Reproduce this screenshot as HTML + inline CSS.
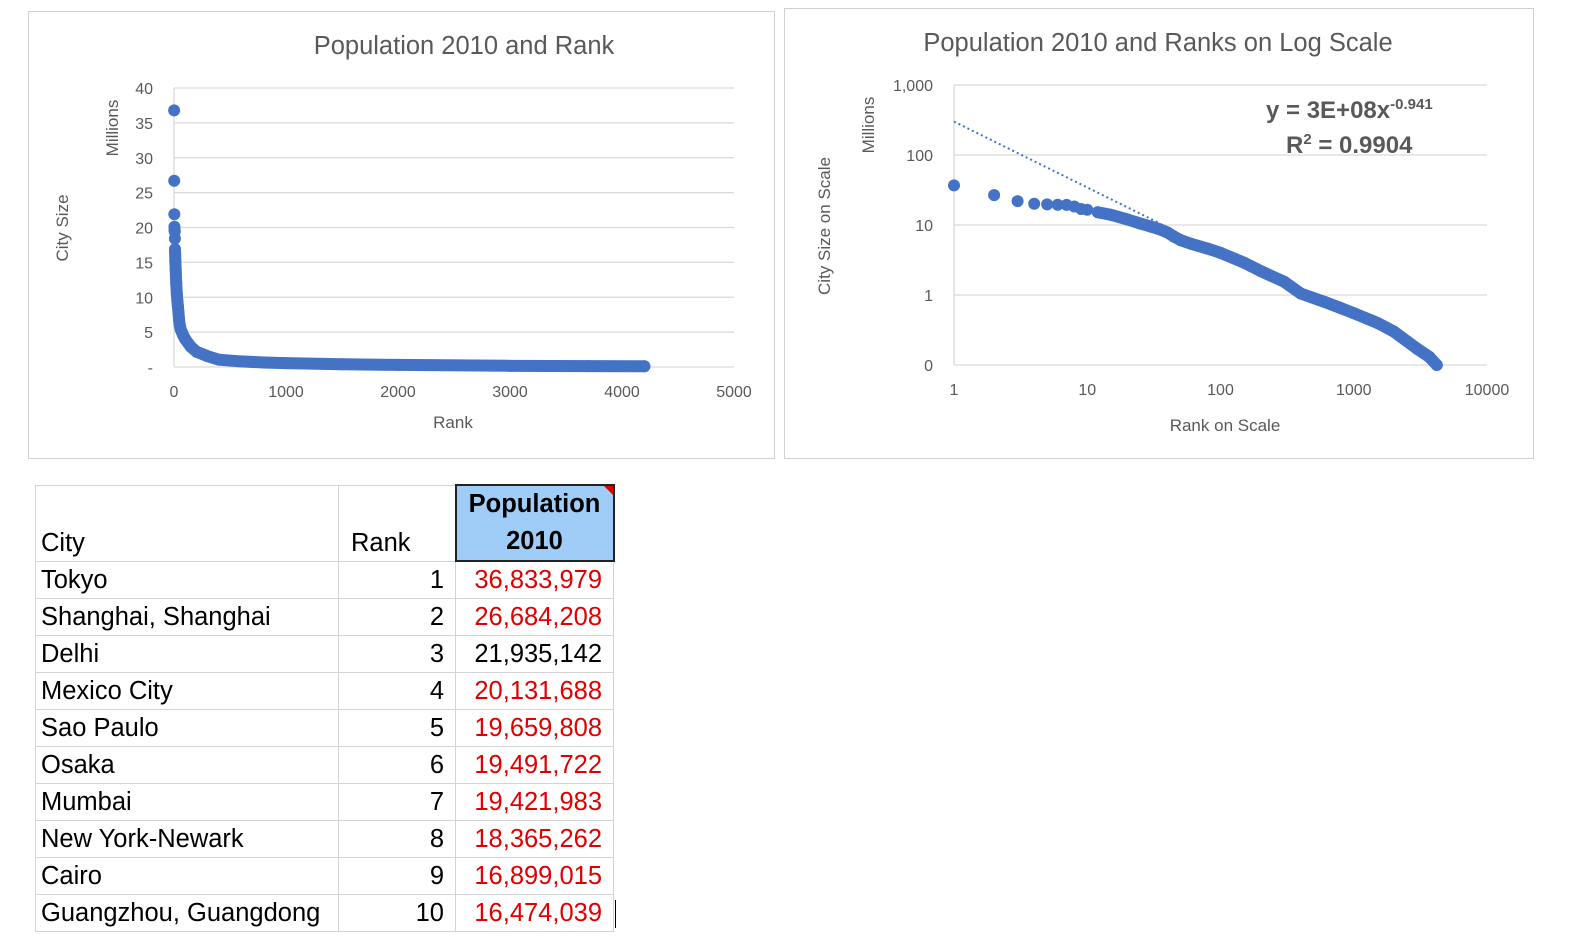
<!DOCTYPE html>
<html><head><meta charset="utf-8">
<style>
body{margin:0;background:#fff;width:1570px;height:944px;overflow:hidden;font-family:"Liberation Sans",sans-serif;position:relative}
svg text{font-family:"Liberation Sans",sans-serif}
table{position:absolute;left:35px;top:484px;border-collapse:collapse;font-size:25.5px;font-family:"Liberation Sans",sans-serif;table-layout:fixed;width:578px}
td{border:1.5px solid #d4d4d4;height:37px;padding:0 5px;line-height:36px;white-space:nowrap;box-sizing:border-box;overflow:visible}
.r{text-align:right;padding-right:11px}
.red{color:#e00000}
</style></head><body>
<svg width="1570" height="470" style="position:absolute;left:0;top:0">
<rect x="28.5" y="11.5" width="746" height="447" fill="#fff" stroke="#d0d0d0"/>
<rect x="784.5" y="8.5" width="749" height="450" fill="#fff" stroke="#d0d0d0"/>
<g id="left"></g>
<g id="right"></g>
</svg>
<table>
<colgroup><col style="width:303px"><col style="width:117px"><col style="width:158px"></colgroup>
<tr style="height:74px"><td style="height:74px;vertical-align:bottom">City</td><td style="vertical-align:bottom;padding-left:12px">Rank</td><td style="background:#9fcdf7;border:2px solid #222;text-align:center;font-weight:bold;line-height:37px;position:relative">Population<br>2010<span style="position:absolute;right:0;top:0;width:0;height:0;border-left:9px solid transparent;border-top:9px solid #e00000"></span></td></tr>
<tr><td>Tokyo</td><td class="r">1</td><td class="r red">36,833,979</td></tr>
<tr><td>Shanghai, Shanghai</td><td class="r">2</td><td class="r red">26,684,208</td></tr>
<tr><td>Delhi</td><td class="r">3</td><td class="r">21,935,142</td></tr>
<tr><td>Mexico City</td><td class="r">4</td><td class="r red">20,131,688</td></tr>
<tr><td>Sao Paulo</td><td class="r">5</td><td class="r red">19,659,808</td></tr>
<tr><td>Osaka</td><td class="r">6</td><td class="r red">19,491,722</td></tr>
<tr><td>Mumbai</td><td class="r">7</td><td class="r red">19,421,983</td></tr>
<tr><td>New York-Newark</td><td class="r">8</td><td class="r red">18,365,262</td></tr>
<tr><td>Cairo</td><td class="r">9</td><td class="r red">16,899,015</td></tr>
<tr><td>Guangzhou, Guangdong</td><td class="r">10</td><td class="r red">16,474,039</td></tr>
</table>
<div style="position:absolute;left:615px;top:900px;width:1px;height:28px;background:#000"></div>
<script>
const ranks = [1,2,3,4,5,6,7,8,9,10,12,15,20,25,30,35,40,45,50,60,80,100,150,200,300,400,600,800,1000,1500,2000,3000,3700,4200];
const popMillions = [36.8,26.7,21.9,20.1,19.7,19.5,19.4,18.4,16.9,16.5,15.2,14.0,12.0,10.5,9.5,8.7,7.8,6.8,6.1,5.4,4.6,4.0,2.9,2.2,1.55,1.05,0.8,0.65,0.55,0.4,0.3,0.17,0.13,0.1];
const leftYTicks = ["-","5","10","15","20","25","30","35","40"];
const leftXTicks = ["0","1000","2000","3000","4000","5000"];
const rightYTicks = ["0","1","10","100","1,000"];
const rightXTicks = ["1","10","100","1000","10000"];
const trendA = 300, trendB = -0.941, trendEnd = 35;
const NS="http://www.w3.org/2000/svg";
function mk(p,tag,attrs){const e=document.createElementNS(NS,tag);for(const k in attrs)e.setAttribute(k,attrs[k]);p.appendChild(e);return e;}
function txt(p,x,y,s,size,fill,anchor,rot){const t=mk(p,'text',{x:x,y:y,'font-size':size,fill:fill,'text-anchor':anchor||'middle'});if(rot)t.setAttribute('transform','rotate(-90 '+x+' '+y+')');t.textContent=s;return t;}
const blue="#4472c4", grey="#595959";
// LEFT
const L=document.getElementById('left');
const lx=v=>174+v*(560/5000), ly=v=>367-v*(279/40);
leftYTicks.forEach((s,i)=>{const y=ly(i*5);
 const g=mk(L,'line',{x1:174,x2:734,y1:y,y2:y,stroke:'#d9d9d9','stroke-width':1.3});
 
 const t=txt(L,153,y+6,s,16,grey,'end');});
leftXTicks.forEach((s,i)=>{const t=txt(L,lx(+s),397,s,16,grey);});
mk(L,'line',{x1:174,x2:174,y1:88,y2:367,stroke:'#d9d9d9','stroke-width':1.3});
let t=txt(L,464,54,'Population 2010 and Rank',25.5,grey);
t=txt(L,453,428,'Rank',17,grey);
t=txt(L,68,228,'City Size',17,grey,'middle',true);
t=txt(L,118,128,'Millions',17,grey,'middle',true);
let pts=ranks.map((r,i)=>lx(r)+','+ly(popMillions[i])).slice(9).join(' ');
let pl=mk(L,'polyline',{points:pts,fill:'none',stroke:blue,'stroke-width':12,'stroke-linecap':'round','stroke-linejoin':'round'});

ranks.forEach((r,i)=>{const c=mk(L,'circle',{cx:lx(r),cy:ly(popMillions[i]),r:6,fill:blue});
 });
// RIGHT
const R=document.getElementById('right');
const rx=v=>954+Math.log10(v)*133.25, ry=v=>365-(Math.log10(v)+1)*70;
rightYTicks.forEach((s,i)=>{const y=365-i*70;
 const g=mk(R,'line',{x1:954,x2:1487,y1:y,y2:y,stroke:'#d9d9d9','stroke-width':1.3});
 
 const tt=txt(R,933,y+6,s,16,grey,'end');});
rightXTicks.forEach((s,i)=>{const tt=txt(R,rx(+s),395,s,16,grey);});
mk(R,'line',{x1:954,x2:954,y1:85,y2:365,stroke:'#d9d9d9','stroke-width':1.3});
t=txt(R,1158,51,'Population 2010 and Ranks on Log Scale',25.5,grey);
t=txt(R,1225,431,'Rank on Scale',17,grey);
t=txt(R,830,226,'City Size on Scale',17,grey,'middle',true);
t=txt(R,874,125,'Millions',17,grey,'middle',true);
const tl=mk(R,'line',{x1:rx(1),y1:ry(trendA),x2:rx(trendEnd),y2:ry(trendA*Math.pow(trendEnd,trendB)),stroke:blue,'stroke-width':2,'stroke-dasharray':'2 3'});

pts=ranks.map((r,i)=>rx(r)+','+ry(popMillions[i])).slice(10).join(' ');
pl=mk(R,'polyline',{points:pts,fill:'none',stroke:blue,'stroke-width':12,'stroke-linecap':'round','stroke-linejoin':'round'});

ranks.forEach((r,i)=>{const c=mk(R,'circle',{cx:rx(r),cy:ry(popMillions[i]),r:6,fill:blue});
 });
const eq=mk(R,'text',{x:1266,y:118,'font-size':24,'font-weight':'bold',fill:grey});

eq.innerHTML='y = 3E+08x<tspan dy="-9" font-size="15">-0.941</tspan>';
const r2=mk(R,'text',{x:1286,y:153,'font-size':24,'font-weight':'bold',fill:grey});

r2.innerHTML='R<tspan dy="-9" font-size="15">2</tspan><tspan dy="9"> = 0.9904</tspan>';
</script>
</body></html>
